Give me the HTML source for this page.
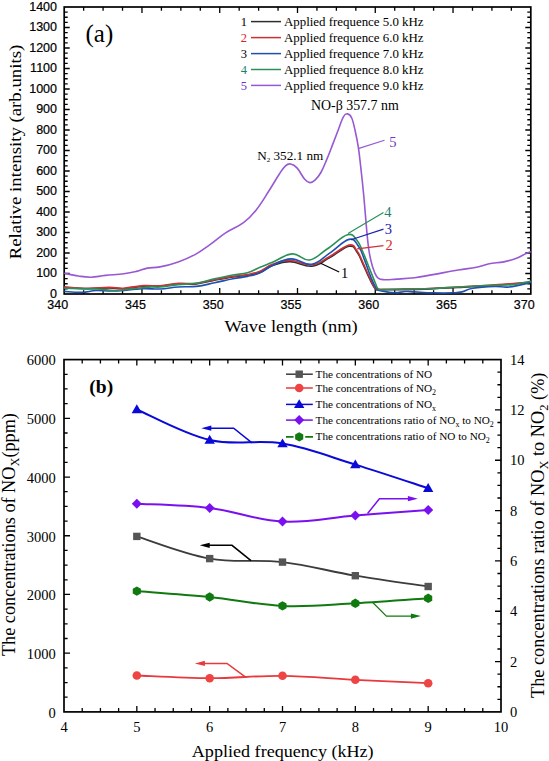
<!DOCTYPE html>
<html><head><meta charset="utf-8"><style>html,body{margin:0;padding:0;background:#fff;width:549px;height:761px;overflow:hidden}svg{display:block}</style></head>
<body><svg width="549" height="761" viewBox="0 0 549 761"><rect x="64.2" y="7.0" width="466.59999999999997" height="287.0" fill="none" stroke="#000" stroke-width="1.7"/>
<path d="M64.2,288.88h3.5M530.8,288.88h-3.5M64.2,283.75h3.5M530.8,283.75h-3.5M64.2,278.62h3.5M530.8,278.62h-3.5M64.2,273.50h5.5M530.8,273.50h-5.5M64.2,268.38h3.5M530.8,268.38h-3.5M64.2,263.25h3.5M530.8,263.25h-3.5M64.2,258.12h3.5M530.8,258.12h-3.5M64.2,253.00h5.5M530.8,253.00h-5.5M64.2,247.88h3.5M530.8,247.88h-3.5M64.2,242.75h3.5M530.8,242.75h-3.5M64.2,237.62h3.5M530.8,237.62h-3.5M64.2,232.50h5.5M530.8,232.50h-5.5M64.2,227.38h3.5M530.8,227.38h-3.5M64.2,222.25h3.5M530.8,222.25h-3.5M64.2,217.12h3.5M530.8,217.12h-3.5M64.2,212.00h5.5M530.8,212.00h-5.5M64.2,206.88h3.5M530.8,206.88h-3.5M64.2,201.75h3.5M530.8,201.75h-3.5M64.2,196.62h3.5M530.8,196.62h-3.5M64.2,191.50h5.5M530.8,191.50h-5.5M64.2,186.38h3.5M530.8,186.38h-3.5M64.2,181.25h3.5M530.8,181.25h-3.5M64.2,176.12h3.5M530.8,176.12h-3.5M64.2,171.00h5.5M530.8,171.00h-5.5M64.2,165.88h3.5M530.8,165.88h-3.5M64.2,160.75h3.5M530.8,160.75h-3.5M64.2,155.62h3.5M530.8,155.62h-3.5M64.2,150.50h5.5M530.8,150.50h-5.5M64.2,145.38h3.5M530.8,145.38h-3.5M64.2,140.25h3.5M530.8,140.25h-3.5M64.2,135.12h3.5M530.8,135.12h-3.5M64.2,130.00h5.5M530.8,130.00h-5.5M64.2,124.88h3.5M530.8,124.88h-3.5M64.2,119.75h3.5M530.8,119.75h-3.5M64.2,114.62h3.5M530.8,114.62h-3.5M64.2,109.50h5.5M530.8,109.50h-5.5M64.2,104.38h3.5M530.8,104.38h-3.5M64.2,99.25h3.5M530.8,99.25h-3.5M64.2,94.12h3.5M530.8,94.12h-3.5M64.2,89.00h5.5M530.8,89.00h-5.5M64.2,83.88h3.5M530.8,83.88h-3.5M64.2,78.75h3.5M530.8,78.75h-3.5M64.2,73.62h3.5M530.8,73.62h-3.5M64.2,68.50h5.5M530.8,68.50h-5.5M64.2,63.38h3.5M530.8,63.38h-3.5M64.2,58.25h3.5M530.8,58.25h-3.5M64.2,53.12h3.5M530.8,53.12h-3.5M64.2,48.00h5.5M530.8,48.00h-5.5M64.2,42.88h3.5M530.8,42.88h-3.5M64.2,37.75h3.5M530.8,37.75h-3.5M64.2,32.62h3.5M530.8,32.62h-3.5M64.2,27.50h5.5M530.8,27.50h-5.5M64.2,22.38h3.5M530.8,22.38h-3.5M64.2,17.25h3.5M530.8,17.25h-3.5M64.2,12.12h3.5M530.8,12.12h-3.5M83.64,294.0v-3.8M83.64,7.0v3.8M103.08,294.0v-3.8M103.08,7.0v3.8M122.53,294.0v-3.8M122.53,7.0v3.8M141.97,294.0v-6M141.97,7.0v6M161.41,294.0v-3.8M161.41,7.0v3.8M180.85,294.0v-3.8M180.85,7.0v3.8M200.29,294.0v-3.8M200.29,7.0v3.8M219.73,294.0v-6M219.73,7.0v6M239.18,294.0v-3.8M239.18,7.0v3.8M258.62,294.0v-3.8M258.62,7.0v3.8M278.06,294.0v-3.8M278.06,7.0v3.8M297.50,294.0v-6M297.50,7.0v6M316.94,294.0v-3.8M316.94,7.0v3.8M336.38,294.0v-3.8M336.38,7.0v3.8M355.82,294.0v-3.8M355.82,7.0v3.8M375.27,294.0v-6M375.27,7.0v6M394.71,294.0v-3.8M394.71,7.0v3.8M414.15,294.0v-3.8M414.15,7.0v3.8M433.59,294.0v-3.8M433.59,7.0v3.8M453.03,294.0v-6M453.03,7.0v6M472.47,294.0v-3.8M472.47,7.0v3.8M491.92,294.0v-3.8M491.92,7.0v3.8M511.36,294.0v-3.8M511.36,7.0v3.8" stroke="#000" stroke-width="1.3" fill="none"/>
<text x="57" y="297.70" text-anchor="end" font-family="'Liberation Sans', sans-serif" font-size="12.5" stroke="#000" stroke-width="0.2">0</text>
<text x="57" y="277.20" text-anchor="end" font-family="'Liberation Sans', sans-serif" font-size="12.5" stroke="#000" stroke-width="0.2">100</text>
<text x="57" y="256.70" text-anchor="end" font-family="'Liberation Sans', sans-serif" font-size="12.5" stroke="#000" stroke-width="0.2">200</text>
<text x="57" y="236.20" text-anchor="end" font-family="'Liberation Sans', sans-serif" font-size="12.5" stroke="#000" stroke-width="0.2">300</text>
<text x="57" y="215.70" text-anchor="end" font-family="'Liberation Sans', sans-serif" font-size="12.5" stroke="#000" stroke-width="0.2">400</text>
<text x="57" y="195.20" text-anchor="end" font-family="'Liberation Sans', sans-serif" font-size="12.5" stroke="#000" stroke-width="0.2">500</text>
<text x="57" y="174.70" text-anchor="end" font-family="'Liberation Sans', sans-serif" font-size="12.5" stroke="#000" stroke-width="0.2">600</text>
<text x="57" y="154.20" text-anchor="end" font-family="'Liberation Sans', sans-serif" font-size="12.5" stroke="#000" stroke-width="0.2">700</text>
<text x="57" y="133.70" text-anchor="end" font-family="'Liberation Sans', sans-serif" font-size="12.5" stroke="#000" stroke-width="0.2">800</text>
<text x="57" y="113.20" text-anchor="end" font-family="'Liberation Sans', sans-serif" font-size="12.5" stroke="#000" stroke-width="0.2">900</text>
<text x="57" y="92.70" text-anchor="end" font-family="'Liberation Sans', sans-serif" font-size="12.5" stroke="#000" stroke-width="0.2">1000</text>
<text x="57" y="72.20" text-anchor="end" font-family="'Liberation Sans', sans-serif" font-size="12.5" stroke="#000" stroke-width="0.2">1100</text>
<text x="57" y="51.70" text-anchor="end" font-family="'Liberation Sans', sans-serif" font-size="12.5" stroke="#000" stroke-width="0.2">1200</text>
<text x="57" y="31.20" text-anchor="end" font-family="'Liberation Sans', sans-serif" font-size="12.5" stroke="#000" stroke-width="0.2">1300</text>
<text x="57" y="10.70" text-anchor="end" font-family="'Liberation Sans', sans-serif" font-size="12.5" stroke="#000" stroke-width="0.2">1400</text>
<text x="57.70" y="309.2" text-anchor="middle" font-family="'Liberation Sans', sans-serif" font-size="12.5" stroke="#000" stroke-width="0.2">340</text>
<text x="135.47" y="309.2" text-anchor="middle" font-family="'Liberation Sans', sans-serif" font-size="12.5" stroke="#000" stroke-width="0.2">345</text>
<text x="213.23" y="309.2" text-anchor="middle" font-family="'Liberation Sans', sans-serif" font-size="12.5" stroke="#000" stroke-width="0.2">350</text>
<text x="291.00" y="309.2" text-anchor="middle" font-family="'Liberation Sans', sans-serif" font-size="12.5" stroke="#000" stroke-width="0.2">355</text>
<text x="368.77" y="309.2" text-anchor="middle" font-family="'Liberation Sans', sans-serif" font-size="12.5" stroke="#000" stroke-width="0.2">360</text>
<text x="446.53" y="309.2" text-anchor="middle" font-family="'Liberation Sans', sans-serif" font-size="12.5" stroke="#000" stroke-width="0.2">365</text>
<text x="524.30" y="309.2" text-anchor="middle" font-family="'Liberation Sans', sans-serif" font-size="12.5" stroke="#000" stroke-width="0.2">370</text>
<text transform="translate(21.4,259.3) rotate(-90) scale(1.075,1)" font-family="'Liberation Serif', serif" font-size="17.5">Relative intensity (arb.units)</text>
<text transform="translate(224.6,332.2) scale(1.07,1)" font-family="'Liberation Serif', serif" font-size="17.3">Wave length (nm)</text>
<text transform="translate(85.5,41.6) scale(1,1.04)" font-family="'Liberation Serif', serif" font-size="25">(a)</text>
<text x="247" y="26.1" text-anchor="end" font-family="'Liberation Serif', serif" font-size="12.5" fill="#000000">1</text>
<path d="M251,21.6H281" stroke="#2e2e2e" stroke-width="1.5"/>
<text x="284" y="26.1" font-family="'Liberation Serif', serif" font-size="12.9">Applied frequence 5.0 kHz</text>
<text x="247" y="42.1" text-anchor="end" font-family="'Liberation Serif', serif" font-size="12.5" fill="#dd2222">2</text>
<path d="M251,37.6H281" stroke="#cf3036" stroke-width="1.5"/>
<text x="284" y="42.1" font-family="'Liberation Serif', serif" font-size="12.9">Applied frequence 6.0 kHz</text>
<text x="247" y="58.1" text-anchor="end" font-family="'Liberation Serif', serif" font-size="12.5" fill="#000000">3</text>
<path d="M251,53.6H281" stroke="#1d50b0" stroke-width="1.5"/>
<text x="284" y="58.1" font-family="'Liberation Serif', serif" font-size="12.9">Applied frequence 7.0 kHz</text>
<text x="247" y="74.0" text-anchor="end" font-family="'Liberation Serif', serif" font-size="12.5" fill="#1f7f70">4</text>
<path d="M251,69.5H281" stroke="#2b9058" stroke-width="1.5"/>
<text x="284" y="74.0" font-family="'Liberation Serif', serif" font-size="12.9">Applied frequence 8.0 kHz</text>
<text x="247" y="89.9" text-anchor="end" font-family="'Liberation Serif', serif" font-size="12.5" fill="#7434cc">5</text>
<path d="M251,85.4H281" stroke="#9858d4" stroke-width="1.5"/>
<text x="284" y="89.9" font-family="'Liberation Serif', serif" font-size="12.9">Applied frequence 9.0 kHz</text>
<path d="M64.20,287.40C68.82,287.68 78.30,288.70 87.30,288.80C96.30,288.90 101.90,287.92 109.20,287.90C116.50,287.88 116.88,289.06 123.80,288.70C130.72,288.34 136.56,286.58 143.80,286.10C151.04,285.62 153.12,286.74 160.00,286.30C166.88,285.86 170.92,284.38 178.20,283.90C185.48,283.42 189.12,284.64 196.40,283.90C203.68,283.16 207.30,281.60 214.60,280.20C221.90,278.80 226.34,277.92 232.90,276.90C239.46,275.88 241.98,275.98 247.40,275.10C252.82,274.22 254.98,274.42 260.00,272.50C265.02,270.58 266.50,267.68 272.50,265.50C278.50,263.32 282.14,261.46 290.00,261.60C297.86,261.74 303.94,266.94 311.80,266.20C319.66,265.46 321.86,261.88 329.30,257.90C336.74,253.92 343.44,247.44 349.00,246.30C354.56,245.16 354.28,248.60 357.10,252.20C359.92,255.80 360.68,259.16 363.10,264.30C365.52,269.44 366.78,273.06 369.20,277.90C371.62,282.74 373.04,286.14 375.20,288.50C377.36,290.86 375.04,289.46 380.00,289.70C384.96,289.94 391.00,289.78 400.00,289.70C409.00,289.62 417.00,289.58 425.00,289.30C433.00,289.02 433.40,288.66 440.00,288.30C446.60,287.94 448.90,287.96 458.00,287.50C467.10,287.04 472.70,286.84 485.50,286.00C498.30,285.16 512.94,284.10 522.00,283.30C531.06,282.50 529.04,282.26 530.80,282.00" stroke="#2e2e2e" stroke-width="1.6" fill="none"/>
<path d="M64.20,286.90C68.82,287.18 78.30,288.20 87.30,288.30C96.30,288.40 101.90,287.42 109.20,287.40C116.50,287.38 116.88,288.56 123.80,288.20C130.72,287.84 136.56,286.08 143.80,285.60C151.04,285.12 153.12,286.24 160.00,285.80C166.88,285.36 170.92,283.88 178.20,283.40C185.48,282.92 189.12,284.14 196.40,283.40C203.68,282.66 207.30,281.10 214.60,279.70C221.90,278.30 226.34,277.42 232.90,276.40C239.46,275.38 241.98,275.62 247.40,274.60C252.82,273.58 254.98,273.36 260.00,271.30C265.02,269.24 266.50,266.48 272.50,264.30C278.50,262.12 282.14,260.26 290.00,260.40C297.86,260.54 303.94,265.74 311.80,265.00C319.66,264.26 321.86,260.68 329.30,256.70C336.74,252.72 343.44,246.24 349.00,245.10C354.56,243.96 354.28,247.40 357.10,251.00C359.92,254.60 360.68,257.96 363.10,263.10C365.52,268.24 366.78,271.72 369.20,276.70C371.62,281.68 373.04,285.50 375.20,288.00C377.36,290.50 375.04,288.96 380.00,289.20C384.96,289.44 391.00,289.28 400.00,289.20C409.00,289.12 417.00,289.08 425.00,288.80C433.00,288.52 433.40,288.16 440.00,287.80C446.60,287.44 448.90,287.46 458.00,287.00C467.10,286.54 472.70,286.34 485.50,285.50C498.30,284.66 512.94,283.60 522.00,282.80C531.06,282.00 529.04,281.76 530.80,281.50" stroke="#cf3036" stroke-width="1.6" fill="none"/>
<path d="M64.20,291.40C67.74,291.58 75.46,292.48 81.90,292.30C88.34,292.12 89.86,290.76 96.40,290.50C102.94,290.24 105.48,291.36 114.60,291.00C123.72,290.64 132.92,289.10 142.00,288.70C151.08,288.30 152.76,289.34 160.00,289.00C167.24,288.66 170.92,287.52 178.20,287.00C185.48,286.48 189.12,287.24 196.40,286.40C203.68,285.56 207.30,284.32 214.60,282.80C221.90,281.28 226.34,280.08 232.90,278.80C239.46,277.52 241.98,277.60 247.40,276.40C252.82,275.20 254.98,275.00 260.00,272.80C265.02,270.60 266.28,268.18 272.50,265.40C278.72,262.62 283.24,259.12 291.10,258.90C298.96,258.68 304.16,265.40 311.80,264.30C319.44,263.20 321.86,258.38 329.30,253.40C336.74,248.42 343.14,240.78 349.00,239.40C354.86,238.02 355.48,242.36 358.60,246.50C361.72,250.64 362.18,254.06 364.60,260.10C367.02,266.14 368.28,270.96 370.70,276.70C373.12,282.44 374.28,285.92 376.70,288.80C379.12,291.68 379.22,290.30 382.80,291.10C386.38,291.90 390.06,292.72 394.60,292.80C399.14,292.88 401.50,291.68 405.50,291.50C409.50,291.32 409.12,291.64 414.60,291.90C420.08,292.16 425.26,292.62 432.90,292.80C440.54,292.98 447.00,292.98 452.80,292.80C458.60,292.62 457.90,292.80 461.90,291.90C465.90,291.00 466.26,289.40 472.80,288.30C479.34,287.20 487.32,286.66 494.60,286.40C501.88,286.14 501.96,287.78 509.20,287.00C516.44,286.22 526.48,283.40 530.80,282.50" stroke="#1d50b0" stroke-width="1.6" fill="none"/>
<path d="M64.20,288.30C70.64,288.44 86.32,288.56 96.40,289.00C106.48,289.44 107.30,290.56 114.60,290.50C121.90,290.44 125.62,289.42 132.90,288.70C140.18,287.98 145.58,287.24 151.00,286.90C156.42,286.56 154.56,287.46 160.00,287.00C165.44,286.54 170.92,285.36 178.20,284.60C185.48,283.84 189.12,284.36 196.40,283.20C203.68,282.04 207.30,280.44 214.60,278.80C221.90,277.16 226.34,276.20 232.90,275.00C239.46,273.80 241.98,274.34 247.40,272.80C252.82,271.26 254.98,269.42 260.00,267.30C265.02,265.18 266.06,264.88 272.50,262.20C278.94,259.52 284.78,254.34 292.20,253.90C299.62,253.46 302.62,260.98 309.60,260.00C316.58,259.02 319.52,254.04 327.10,249.00C334.68,243.96 341.50,236.50 347.50,234.80C353.50,233.10 353.98,236.96 357.10,240.50C360.22,244.04 360.68,247.06 363.10,252.50C365.52,257.94 366.78,261.64 369.20,267.70C371.62,273.76 373.40,278.58 375.20,282.80C377.00,287.02 376.38,287.44 378.20,288.80C380.02,290.16 378.94,289.60 384.30,289.60C389.66,289.60 395.46,289.02 405.00,288.80C414.54,288.58 421.36,288.86 432.00,288.50C442.64,288.14 447.50,287.60 458.20,287.00C468.90,286.40 474.56,285.98 485.50,285.50C496.44,285.02 503.84,285.44 512.90,284.60C521.96,283.76 527.22,281.96 530.80,281.30" stroke="#2b9058" stroke-width="1.6" fill="none"/>
<path d="M64.20,273.20C67.00,273.76 72.84,275.20 78.20,276.00C83.56,276.80 85.54,277.32 91.00,277.20C96.46,277.08 98.94,276.08 105.50,275.40C112.06,274.72 117.60,274.60 123.80,273.80C130.00,273.00 131.78,272.54 136.50,271.40C141.22,270.26 142.70,269.00 147.40,268.10C152.10,267.20 153.84,268.14 160.00,266.90C166.16,265.66 171.20,264.36 178.20,261.90C185.20,259.44 188.58,258.10 195.00,254.60C201.42,251.10 204.18,248.74 210.30,244.40C216.42,240.06 218.96,237.24 225.60,232.90C232.24,228.56 237.38,227.30 243.50,222.70C249.62,218.10 251.10,216.28 256.20,209.90C261.30,203.52 264.40,197.94 269.00,190.80C273.60,183.66 275.90,179.20 279.20,174.20C282.50,169.20 283.22,167.84 285.50,165.80C287.78,163.76 288.30,163.58 290.60,164.00C292.90,164.42 294.18,164.84 297.00,167.90C299.82,170.96 302.14,176.36 304.70,179.30C307.26,182.24 307.74,182.44 309.80,182.60C311.86,182.76 312.78,182.12 315.00,180.10C317.22,178.08 318.54,176.64 320.90,172.50C323.26,168.36 324.42,165.08 326.80,159.40C329.18,153.72 330.42,150.24 332.80,144.10C335.18,137.96 336.58,134.16 338.70,128.70C340.82,123.24 341.64,119.76 343.40,116.80C345.16,113.84 345.84,113.66 347.50,113.90C349.16,114.14 350.16,114.58 351.70,118.00C353.24,121.42 353.86,125.08 355.20,131.00C356.54,136.92 357.28,140.26 358.40,147.60C359.52,154.94 359.74,158.22 360.80,167.70C361.86,177.18 362.32,180.44 363.70,195.00C365.08,209.56 366.28,227.48 367.70,240.50C369.12,253.52 369.44,253.76 370.80,260.10C372.16,266.44 373.02,268.58 374.50,272.20C375.98,275.82 376.24,276.70 378.20,278.20C380.16,279.70 380.66,279.52 384.30,279.70C387.94,279.88 390.34,279.50 396.40,279.10C402.46,278.70 407.30,278.60 414.60,277.70C421.90,276.80 424.18,276.14 432.90,274.60C441.62,273.06 449.50,271.46 458.20,270.00C466.90,268.54 470.20,268.56 476.40,267.30C482.60,266.04 483.72,264.78 489.20,263.70C494.68,262.62 498.34,263.00 503.80,261.90C509.26,260.80 512.14,259.84 516.50,258.20C520.86,256.56 522.74,255.04 525.60,253.70C528.46,252.36 529.76,251.94 530.80,251.50" stroke="#9858d4" stroke-width="1.6" fill="none"/>
<path d="M358.2,148.6L384.5,140.3" stroke="#9858d4" stroke-width="1.2"/>
<text x="389.3" y="146.6" font-family="'Liberation Serif', serif" font-size="14.5" fill="#7434cc">5</text>
<path d="M348,233.6L383.5,212.5" stroke="#2b9058" stroke-width="1.2"/>
<text x="384.3" y="217.2" font-family="'Liberation Serif', serif" font-size="14.5" fill="#1f7f70">4</text>
<path d="M351,239.7L383.5,229.1" stroke="#1e22aa" stroke-width="1.2"/>
<text x="384.8" y="234.3" font-family="'Liberation Serif', serif" font-size="14.5" fill="#1e22aa">3</text>
<path d="M357.1,248.8L383.5,245.7" stroke="#cf3036" stroke-width="1.2"/>
<text x="385.4" y="249.8" font-family="'Liberation Serif', serif" font-size="14.5" fill="#dd2222">2</text>
<path d="M320.6,263.3L339.2,272" stroke="#000" stroke-width="1.2"/>
<text x="341" y="277.5" font-family="'Liberation Serif', serif" font-size="14.5">1</text>
<text x="257.2" y="159.7" font-family="'Liberation Serif', serif" font-size="13.2">N<tspan font-size="7" dy="2.5">2</tspan><tspan dy="-2.5"> 352.1 nm</tspan></text>
<text x="311" y="109.6" font-family="'Liberation Serif', serif" font-size="13.9">NO-β 357.7 nm</text>
<rect x="64.0" y="359.6" width="437.0" height="352.29999999999995" fill="none" stroke="#000" stroke-width="1.7"/>
<path d="M64.0,697.22h3.6M64.0,682.54h3.6M64.0,667.86h3.6M64.0,653.18h6M64.0,638.50h3.6M64.0,623.83h3.6M64.0,609.15h3.6M64.0,594.47h6M64.0,579.79h3.6M64.0,565.11h3.6M64.0,550.43h3.6M64.0,535.75h6M64.0,521.07h3.6M64.0,506.39h3.6M64.0,491.71h3.6M64.0,477.03h6M64.0,462.35h3.6M64.0,447.68h3.6M64.0,433.00h3.6M64.0,418.32h6M64.0,403.64h3.6M64.0,388.96h3.6M64.0,374.28h3.6M501.0,699.32h-3.6M501.0,686.74h-3.6M501.0,674.15h-3.6M501.0,661.57h-6M501.0,648.99h-3.6M501.0,636.41h-3.6M501.0,623.83h-3.6M501.0,611.24h-6M501.0,598.66h-3.6M501.0,586.08h-3.6M501.0,573.50h-3.6M501.0,560.91h-6M501.0,548.33h-3.6M501.0,535.75h-3.6M501.0,523.17h-3.6M501.0,510.59h-6M501.0,498.00h-3.6M501.0,485.42h-3.6M501.0,472.84h-3.6M501.0,460.26h-6M501.0,447.68h-3.6M501.0,435.09h-3.6M501.0,422.51h-3.6M501.0,409.93h-6M501.0,397.35h-3.6M501.0,384.76h-3.6M501.0,372.18h-3.6M82.21,711.9v-3.8M82.21,359.6v3.8M100.42,711.9v-3.8M100.42,359.6v3.8M118.62,711.9v-3.8M118.62,359.6v3.8M136.83,711.9v-6M136.83,359.6v6M155.04,711.9v-3.8M155.04,359.6v3.8M173.25,711.9v-3.8M173.25,359.6v3.8M191.46,711.9v-3.8M191.46,359.6v3.8M209.67,711.9v-6M209.67,359.6v6M227.88,711.9v-3.8M227.88,359.6v3.8M246.08,711.9v-3.8M246.08,359.6v3.8M264.29,711.9v-3.8M264.29,359.6v3.8M282.50,711.9v-6M282.50,359.6v6M300.71,711.9v-3.8M300.71,359.6v3.8M318.92,711.9v-3.8M318.92,359.6v3.8M337.12,711.9v-3.8M337.12,359.6v3.8M355.33,711.9v-6M355.33,359.6v6M373.54,711.9v-3.8M373.54,359.6v3.8M391.75,711.9v-3.8M391.75,359.6v3.8M409.96,711.9v-3.8M409.96,359.6v3.8M428.17,711.9v-6M428.17,359.6v6M446.38,711.9v-3.8M446.38,359.6v3.8M464.58,711.9v-3.8M464.58,359.6v3.8M482.79,711.9v-3.8M482.79,359.6v3.8" stroke="#000" stroke-width="1.3" fill="none"/>
<text x="55.7" y="717.70" text-anchor="end" font-family="'Liberation Serif', serif" font-size="14.5">0</text>
<text x="55.7" y="658.98" text-anchor="end" font-family="'Liberation Serif', serif" font-size="14.5">1000</text>
<text x="55.7" y="600.27" text-anchor="end" font-family="'Liberation Serif', serif" font-size="14.5">2000</text>
<text x="55.7" y="541.55" text-anchor="end" font-family="'Liberation Serif', serif" font-size="14.5">3000</text>
<text x="55.7" y="482.83" text-anchor="end" font-family="'Liberation Serif', serif" font-size="14.5">4000</text>
<text x="55.7" y="424.12" text-anchor="end" font-family="'Liberation Serif', serif" font-size="14.5">5000</text>
<text x="55.7" y="365.40" text-anchor="end" font-family="'Liberation Serif', serif" font-size="14.5">6000</text>
<text x="509.9" y="716.90" font-family="'Liberation Serif', serif" font-size="14.5">0</text>
<text x="509.9" y="666.57" font-family="'Liberation Serif', serif" font-size="14.5">2</text>
<text x="509.9" y="616.24" font-family="'Liberation Serif', serif" font-size="14.5">4</text>
<text x="509.9" y="565.91" font-family="'Liberation Serif', serif" font-size="14.5">6</text>
<text x="509.9" y="515.59" font-family="'Liberation Serif', serif" font-size="14.5">8</text>
<text x="509.9" y="465.26" font-family="'Liberation Serif', serif" font-size="14.5">10</text>
<text x="509.9" y="414.93" font-family="'Liberation Serif', serif" font-size="14.5">12</text>
<text x="509.9" y="364.60" font-family="'Liberation Serif', serif" font-size="14.5">14</text>
<text x="64.00" y="732.3" text-anchor="middle" font-family="'Liberation Serif', serif" font-size="14.5">4</text>
<text x="136.83" y="732.3" text-anchor="middle" font-family="'Liberation Serif', serif" font-size="14.5">5</text>
<text x="209.67" y="732.3" text-anchor="middle" font-family="'Liberation Serif', serif" font-size="14.5">6</text>
<text x="282.50" y="732.3" text-anchor="middle" font-family="'Liberation Serif', serif" font-size="14.5">7</text>
<text x="355.33" y="732.3" text-anchor="middle" font-family="'Liberation Serif', serif" font-size="14.5">8</text>
<text x="428.17" y="732.3" text-anchor="middle" font-family="'Liberation Serif', serif" font-size="14.5">9</text>
<text x="501.00" y="732.3" text-anchor="middle" font-family="'Liberation Serif', serif" font-size="14.5">10</text>
<text transform="translate(15.4,656) rotate(-90)" font-family="'Liberation Serif', serif" font-size="18.2">The concentrations of NO<tspan font-size="12.5" dy="3.5">X</tspan><tspan dy="-3.5">(ppm)</tspan></text>
<text transform="translate(544.4,698) rotate(-90)" font-family="'Liberation Serif', serif" font-size="18.3">The concentrations ratio of NO<tspan font-size="12.5" dy="3.5">X</tspan><tspan dy="-3.5"> to NO</tspan><tspan font-size="12.5" dy="3.5">2</tspan><tspan dy="-3.5"> (%)</tspan></text>
<text transform="translate(191.8,757) scale(1.065,1)" font-family="'Liberation Serif', serif" font-size="17">Applied frequency (kHz)</text>
<text x="89.3" y="393.2" font-family="'Liberation Serif', serif" font-weight="bold" font-size="19.5">(b)</text>
<path d="M136.83,409.50C149.94,414.99 183.45,433.86 209.67,440.00C235.89,446.14 256.28,439.17 282.50,443.60C308.72,448.03 329.11,456.55 355.33,464.60C381.55,472.65 415.06,484.03 428.17,488.30" stroke="#0a0ad8" stroke-width="2.0" fill="none"/>
<path d="M136.83,404.30L142.03,413.14L131.63,413.14Z" fill="#0a0ad8"/>
<path d="M209.67,434.80L214.87,443.64L204.47,443.64Z" fill="#0a0ad8"/>
<path d="M282.50,438.40L287.70,447.24L277.30,447.24Z" fill="#0a0ad8"/>
<path d="M355.33,459.40L360.53,468.24L350.13,468.24Z" fill="#0a0ad8"/>
<path d="M428.17,483.10L433.37,491.94L422.97,491.94Z" fill="#0a0ad8"/>
<path d="M136.83,503.70C149.94,504.47 183.45,504.78 209.67,508.00C235.89,511.22 256.28,520.25 282.50,521.60C308.72,522.95 329.11,517.59 355.33,515.50C381.55,513.41 415.06,510.99 428.17,510.00" stroke="#7a10f0" stroke-width="2.0" fill="none"/>
<path d="M136.83,498.70L141.83,503.70L136.83,508.70L131.83,503.70Z" fill="#7a10f0"/>
<path d="M209.67,503.00L214.67,508.00L209.67,513.00L204.67,508.00Z" fill="#7a10f0"/>
<path d="M282.50,516.60L287.50,521.60L282.50,526.60L277.50,521.60Z" fill="#7a10f0"/>
<path d="M355.33,510.50L360.33,515.50L355.33,520.50L350.33,515.50Z" fill="#7a10f0"/>
<path d="M428.17,505.00L433.17,510.00L428.17,515.00L423.17,510.00Z" fill="#7a10f0"/>
<path d="M136.83,536.40C149.94,540.40 183.45,553.97 209.67,558.60C235.89,563.23 256.28,559.02 282.50,562.10C308.72,565.18 329.11,571.31 355.33,575.70C381.55,580.09 415.06,584.56 428.17,586.50" stroke="#3c3c3c" stroke-width="1.8" fill="none"/>
<rect x="133.13" y="532.70" width="7.4" height="7.4" fill="#555555"/>
<rect x="205.97" y="554.90" width="7.4" height="7.4" fill="#555555"/>
<rect x="278.80" y="558.40" width="7.4" height="7.4" fill="#555555"/>
<rect x="351.63" y="572.00" width="7.4" height="7.4" fill="#555555"/>
<rect x="424.47" y="582.80" width="7.4" height="7.4" fill="#555555"/>
<path d="M136.83,591.10C149.94,592.16 183.45,594.34 209.67,597.00C235.89,599.66 256.28,604.77 282.50,605.90C308.72,607.03 329.11,604.67 355.33,603.30C381.55,601.93 415.06,599.20 428.17,598.30" stroke="#107a10" stroke-width="2.0" fill="none"/>
<polygon points="136.83,586.40 140.90,588.75 140.90,593.45 136.83,595.80 132.76,593.45 132.76,588.75" fill="#107a10"/>
<polygon points="209.67,592.30 213.74,594.65 213.74,599.35 209.67,601.70 205.60,599.35 205.60,594.65" fill="#107a10"/>
<polygon points="282.50,601.20 286.57,603.55 286.57,608.25 282.50,610.60 278.43,608.25 278.43,603.55" fill="#107a10"/>
<polygon points="355.33,598.60 359.40,600.95 359.40,605.65 355.33,608.00 351.26,605.65 351.26,600.95" fill="#107a10"/>
<polygon points="428.17,593.60 432.24,595.95 432.24,600.65 428.17,603.00 424.10,600.65 424.10,595.95" fill="#107a10"/>
<path d="M136.83,675.50C149.94,675.99 183.45,678.15 209.67,678.20C235.89,678.25 256.28,675.51 282.50,675.80C308.72,676.09 329.11,678.47 355.33,679.80C381.55,681.13 415.06,682.59 428.17,683.20" stroke="#e8393c" stroke-width="1.8" fill="none"/>
<circle cx="136.83" cy="675.50" r="4.3" fill="#ee4444"/>
<circle cx="209.67" cy="678.20" r="4.3" fill="#ee4444"/>
<circle cx="282.50" cy="675.80" r="4.3" fill="#ee4444"/>
<circle cx="355.33" cy="679.80" r="4.3" fill="#ee4444"/>
<circle cx="428.17" cy="683.20" r="4.3" fill="#ee4444"/>
<path d="M210.3,428.2H233.7L252,442.8" stroke="#0a0ad8" stroke-width="1.5" fill="none"/><path d="M201.3,428.2L211.3,425.59999999999997L211.3,430.8Z" fill="#0a0ad8"/>
<path d="M208.7,545.3H232L251,560.6" stroke="#000" stroke-width="1.5" fill="none"/><path d="M199.7,545.3L209.7,542.6999999999999L209.7,547.9Z" fill="#000"/>
<path d="M203.9,663.4H227L245.6,677.2" stroke="#e8393c" stroke-width="1.5" fill="none"/><path d="M194.9,663.4L204.9,660.8L204.9,666.0Z" fill="#e8393c"/>
<path d="M408.9,498.7H379.4L367.6,513.5" stroke="#7a10f0" stroke-width="1.5" fill="none"/><path d="M417.9,498.7L407.9,496.09999999999997L407.9,501.3Z" fill="#7a10f0"/>
<path d="M411.9,616.1H386.4L372.5,602.3" stroke="#107a10" stroke-width="1.2" fill="none"/><path d="M420.9,616.1L410.9,613.5L410.9,618.7Z" fill="#107a10"/>
<path d="M286,374.2H312.8" stroke="#3c3c3c" stroke-width="1.5"/>
<rect x="295.50" y="370.50" width="7.4" height="7.4" fill="#555555"/>
<text x="315.6" y="377.7" font-family="'Liberation Serif', serif" font-size="11.2">The concentrations of NO</text>
<path d="M286,388.0H312.8" stroke="#e8393c" stroke-width="1.5"/>
<circle cx="299.20" cy="388.00" r="4.3" fill="#ee4444"/>
<text x="315.6" y="391.5" font-family="'Liberation Serif', serif" font-size="11.2">The concentrations of NO<tspan font-size='8' dy='3'>2</tspan></text>
<path d="M286,404.4H312.8" stroke="#0a0ad8" stroke-width="1.5"/>
<path d="M299.20,399.20L304.40,408.04L294.00,408.04Z" fill="#0a0ad8"/>
<text x="315.6" y="407.9" font-family="'Liberation Serif', serif" font-size="11.2">The concentrations of NO<tspan font-size='8' dy='3'>x</tspan></text>
<path d="M286,420.1H312.8" stroke="#7a10f0" stroke-width="1.5"/>
<path d="M299.20,415.10L304.20,420.10L299.20,425.10L294.20,420.10Z" fill="#7a10f0"/>
<text x="315.6" y="423.6" font-family="'Liberation Serif', serif" font-size="11.2">The concentrations ratio of NO<tspan font-size='8' dy='3'>x</tspan><tspan dy='-3'> to NO</tspan><tspan font-size='8' dy='3'>2</tspan></text>
<path d="M286,436.9H293.6M305.2,436.9H313" stroke="#107a10" stroke-width="1.6"/>
<polygon points="299.20,432.20 303.27,434.55 303.27,439.25 299.20,441.60 295.13,439.25 295.13,434.55" fill="#107a10"/>
<text x="315.6" y="440.4" font-family="'Liberation Serif', serif" font-size="11.2">The concentrations ratio of NO to NO<tspan font-size='8' dy='3'>2</tspan></text></svg></body></html>
